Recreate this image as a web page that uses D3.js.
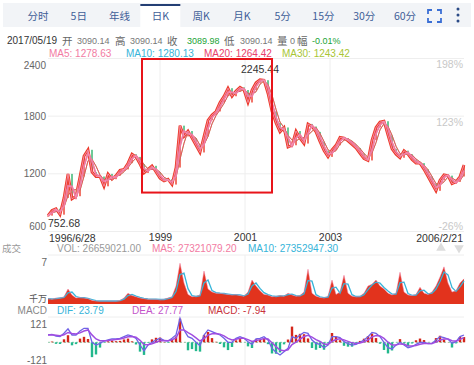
<!DOCTYPE html>
<html>
<head>
<meta charset="utf-8">
<title>日K</title>
<style>
    body { margin: 0; background: #fff; overflow: hidden; }
    svg text { font-family: "Liberation Sans", Arial, sans-serif; }
    .cjk { font-family: "Noto Sans CJK SC", sans-serif; }
</style>
</head>
<body>
<div id="chart"></div>
<script src="https://d3js.org/d3.v7.min.js"></script>
<script>
// tabs on top
var tabs = ["分时", "5日", "年线", "日K", "周K", "月K", "5分", "15分", "30分", "60分"];
var activeTab = "日K";

// quote line
var quoteDate = "2017/05/19";
var quoteLabels = ["开", "高", "收", "低", "量", "幅"];
var quoteValues = ["3090.14", "3090.14", "3089.98", "3090.14", "0", "-0.01%"];
var maNames = ["MA5", "MA10", "MA20", "MA30"];
var maValues = ["1278.63", "1280.13", "1264.42", "1243.42"];
var volNames = ["VOL", "MA5", "MA10"];
var volValues = ["26659021.00", "27321079.20", "27352947.30"];
var macdNames = ["DIF", "DEA", "MACD"];
var macdValues = ["23.79", "27.77", "-7.94"];

// price, one sample every few trading days, 1996/6/28 .. 2006/2/21
var closes = [760, 814, 832, 770, 944, 1194, 935, 962, 1167, 1380,
    1445, 1213, 1167, 1167, 1065, 1194, 1139, 1176, 1232, 1241,
    1306, 1399, 1371, 1297, 1204, 1241, 1278, 1213, 1148, 1120,
    1139, 1083, 1260, 1696, 1584, 1640, 1566, 1492, 1417, 1584,
    1752, 1807, 1844, 1937, 2002, 2086, 2002, 2058, 2095, 2067,
    1937, 2067, 2142, 2174, 2169, 2030, 1844, 1724, 1631, 1677,
    1473, 1492, 1640, 1566, 1510, 1714, 1687, 1631, 1529, 1436,
    1371, 1445, 1492, 1575, 1566, 1538, 1501, 1464, 1408, 1352,
    1334, 1547, 1677, 1733, 1742, 1594, 1454, 1399, 1362, 1436,
    1399, 1343, 1306, 1306, 1241, 1167, 1092, 1018, 1130, 1185,
    1176, 1092, 1111, 1167, 1287];

// volume in 千万
var volumes = [0.9, 0.8, 1.0, 1.0, 1.2, 2.5, 1.5, 1.0, 1.1, 1.0,
    0.9, 0.6, 0.5, 0.5, 0.5, 0.5, 0.5, 0.5, 0.6, 1.0,
    1.8, 1.4, 1.2, 1.0, 0.9, 0.8, 0.8, 0.8, 0.7, 0.8,
    1.0, 1.2, 3.0, 6.8, 3.5, 1.6, 1.2, 1.3, 1.5, 5.5,
    2.5, 2.0, 1.8, 1.8, 1.7, 1.6, 1.5, 1.6, 1.4, 1.3,
    2.0, 4.0, 3.0, 2.2, 1.6, 1.5, 1.2, 1.3, 1.4, 1.3,
    1.8, 1.5, 1.3, 1.4, 2.0, 5.8, 1.8, 1.3, 1.1, 1.0,
    1.3, 4.0, 1.6, 2.0, 4.8, 1.8, 1.3, 1.2, 1.3, 1.8,
    3.0, 3.3, 4.0, 3.0, 2.5, 1.8, 1.5, 1.8, 5.3, 2.0,
    1.5, 1.4, 1.6, 2.8, 1.8, 1.6, 2.0, 3.0, 4.5, 6.2,
    3.5, 2.0, 2.2, 3.5, 4.2];

var difs = [35, 38, 30, 27, 43, 64, 35, 35, 54, 67,
    67, 0, -13, -5, 6, 11, 16, 16, 19, 27,
    35, 30, 19, -13, -41, -13, 0, 11, 19, 9,
    6, 19, 35, 115, 59, 27, 19, 0, -16, 35,
    59, 51, 43, 35, 19, 0, 0, 19, 27, 19,
    3, -10, 16, 19, 27, 11, -29, -48, -61, -45,
    -29, 27, 19, 35, 47, 43, 11, -5, -10, -26,
    -13, 27, 27, 22, 3, -6, -13, -10, 0, 11,
    27, 47, 43, 27, 0, -26, -32, -13, 0, -13,
    -26, -21, -10, 0, 0, -6, -6, 11, 27, 22,
    16, -5, 3, 27, 35];

var priceTicks = [2400, 1800, 1200, 600];
var pctTicks = [198, 123, -26];
var yearIdx = [28, 49.25, 70.5];
var yearLabels = ["1999", "2001", "2003"];
var firstDate = "1996/6/28", lastDate = "2006/2/21";
var highLabel = 2245.44, lowLabel = 752.68;
var boxFrom = 23.5, boxTo = 56, boxTop = 2400, boxBottom = 1000;

var colors = {
    ma5: "#f27ba2", ma10: "#36b4d9", ma20: "#e8416b", ma30: "#a8c535",
    up: "#ec3a2a", down: "#2fb36c", axis: "#666", grid: "#eeeeee"
};

var W = 474, H = 365;
var left = 48, right = 464;

var svg = d3.select("#chart").append("svg").attr("width", W).attr("height", H);

// ---- tab bar ----
var tabX = d3.scalePoint().domain(tabs).range([38, 405]);
svg.append("rect").attr("x", 3).attr("y", 3).attr("width", 468).attr("height", 24).attr("fill", "#f2f4f7");
svg.append("rect").attr("x", tabX(activeTab) - 20).attr("y", 4).attr("width", 40).attr("height", 23).attr("fill", "#fff");
svg.append("rect").attr("x", tabX(activeTab) - 20).attr("y", 4).attr("width", 40).attr("height", 2).attr("fill", "#243f74");
svg.selectAll(".tab").data(tabs).enter().append("text")
    .attr("class", "cjk tab")
    .attr("x", function(d) { return tabX(d); })
    .attr("y", 20)
    .attr("text-anchor", "middle")
    .style("font-size", "10.5px")
    .attr("fill", "#3f5e98")
    .text(function(d) { return d; });

// fullscreen icon + menu dots
var fs = svg.append("g").attr("fill", "none").attr("stroke", "#3b6fd4").attr("stroke-width", 1.8);
fs.append("path").attr("d", "M428,14V10H432 M437,10H441V14 M441,18V22H437 M432,22H428V18");
svg.selectAll(".dot").data([9, 15, 21]).enter().append("circle")
    .attr("cx", 458).attr("cy", function(d) { return d; }).attr("r", 1.5).attr("fill", "#2b4a86");

// ---- quote line ----
svg.append("text").attr("x", 7).attr("y", 44).attr("fill", "#333").style("font-size", "10px").text(quoteDate);
var qLabelX = [62, 115, 167, 224, 277, 297];
var qValueX = [77, 130, 187, 240, 290, 312];
quoteLabels.forEach(function(l, i) {
    svg.append("text").attr("class", "cjk").attr("x", qLabelX[i]).attr("y", 45)
        .attr("fill", "#666").style("font-size", "10.5px").text(l);
    var green = quoteValues[i] === "3089.98" || quoteValues[i].charAt(0) === "-";
    svg.append("text").attr("x", qValueX[i]).attr("y", 44)
        .attr("fill", green ? "#21a336" : "#777").style("font-size", "9px").text(quoteValues[i]);
});

// MA legend
var maColors = [colors.ma5, colors.ma10, colors.ma20, colors.ma30];
var maX = [49, 126, 204, 282];
maNames.forEach(function(n, i) {
    svg.append("text").attr("x", maX[i]).attr("y", 57).attr("fill", maColors[i])
        .style("font-size", "10px").text(n + ": " + maValues[i]);
});

// ---- scales ----
var N = closes.length;
var x = d3.scaleLinear().domain([0, N - 1]).range([left, right]);
var y = d3.scaleLinear().domain([600, 2400]).range([231, 58]);
var yPct = d3.scaleLinear().domain([-26, 198]).range([231, 58]);
var yVol = d3.scaleLinear().domain([0, 7]).range([304, 262]);
var yMacd = d3.scaleLinear().domain([-121, 121]).range([367.6, 317]);

function movingAvg(arr, n) {
    return arr.map(function(v, i) {
        return d3.mean(arr.slice(Math.max(0, i - n + 1), i + 1));
    });
}

// ---- price panel ----
var yAxis = svg.append("g").attr("transform", "translate(" + left + ",0)")
    .call(d3.axisLeft(y).tickValues(priceTicks).tickFormat(d3.format("d"))
        .tickSize(-(right - left)).tickPadding(2));
yAxis.select(".domain").remove();
yAxis.selectAll("line").attr("stroke", colors.grid);
yAxis.selectAll("text").attr("fill", colors.axis).style("font-size", "10px")
    .attr("dy", function(d) { return d === 2400 ? "1.05em" : d === 600 ? "-0.17em" : "0.36em"; });

svg.append("g").selectAll("text").data(pctTicks).enter().append("text")
    .attr("x", 463).attr("y", function(d) { return yPct(d); })
    .attr("dy", function(d, i) { return i === pctTicks.length - 1 ? "-0.07em" : "0.93em"; })
    .attr("text-anchor", "end").attr("fill", "#c8c8c8").style("font-size", "10.5px")
    .text(function(d) { return d + "%"; });

// vertical grid in all three panels
[[58, 231], [255, 304], [317, 365]].forEach(function(r) {
    svg.append("g").selectAll("line").data(yearIdx).enter().append("line")
        .attr("x1", function(d) { return x(d); }).attr("x2", function(d) { return x(d); })
        .attr("y1", r[0]).attr("y2", r[1]).attr("stroke", colors.grid);
});
[255, 317].forEach(function(v) {
    svg.append("line").attr("x1", left).attr("x2", right).attr("y1", v).attr("y2", v).attr("stroke", colors.grid);
});

var xAxis = svg.append("g").attr("transform", "translate(0,231)")
    .call(d3.axisBottom(x).tickValues(yearIdx).tickSize(0).tickPadding(3)
        .tickFormat(function(d, i) { return yearLabels[i]; }));
xAxis.select(".domain").remove();
xAxis.selectAll("text").attr("fill", "#333").style("font-size", "10.5px");
svg.append("text").attr("x", left + 1).attr("y", 241.5).attr("fill", "#333").style("font-size", "10.5px").text(firstDate);
svg.append("text").attr("x", 463).attr("y", 241.5).attr("text-anchor", "end").attr("fill", "#333").style("font-size", "10.5px").text(lastDate);

// candles (open = previous close), drawn thin under the lines
var candles = svg.append("g");
closes.forEach(function(c, i) {
    var o = i === 0 ? c : closes[i - 1];
    candles.append("rect")
        .attr("x", x(i) - 0.7).attr("width", 1.4)
        .attr("y", y(Math.max(o, c))).attr("height", Math.max(1, Math.abs(y(o) - y(c))))
        .attr("fill", c >= o ? colors.up : colors.down);
});

var priceLine = d3.line().x(function(d, i) { return x(i); }).y(function(d) { return y(d); });
svg.append("path").datum(closes).attr("d", priceLine).attr("fill", "none")
    .attr("stroke", colors.up).attr("stroke-width", 2.8);
[[3, colors.ma30], [3, colors.ma20], [2, colors.ma10], [2, colors.ma5]].forEach(function(m, k) {
    svg.append("path").datum(movingAvg(closes, m[0]))
        .attr("d", priceLine).attr("fill", "none").attr("stroke", m[1])
        .attr("stroke-width", k === 3 ? 1.8 : 0.9);
});
svg.append("path").datum(closes).attr("d", priceLine).attr("fill", "none")
    .attr("stroke", "#f59ab8").attr("stroke-width", 0.8);

// max / min labels
var iMax = d3.maxIndex(closes), iMin = d3.minIndex(closes);
svg.append("text").attr("x", x(iMax)).attr("y", y(highLabel)).attr("text-anchor", "middle")
    .attr("fill", "#333").style("font-size", "10.5px").text(highLabel.toFixed(2));
svg.append("text").attr("x", x(iMin)).attr("y", y(lowLabel) + 11)
    .attr("fill", "#333").style("font-size", "10.5px").text(lowLabel.toFixed(2));

// highlight box
svg.append("rect")
    .attr("x", x(boxFrom)).attr("y", y(boxTop) + 1)
    .attr("width", x(boxTo) - x(boxFrom)).attr("height", y(boxBottom) - y(boxTop) - 1)
    .attr("fill", "none").attr("stroke", "#e8141a").attr("stroke-width", 2);

// ---- volume panel ----
svg.append("text").attr("class", "cjk").attr("x", 2).attr("y", 252).attr("fill", "#999").style("font-size", "9.5px").text("成交");
var volColors = ["#999", colors.ma5, colors.ma10];
var volX = [57, 152, 248];
volNames.forEach(function(n, i) {
    svg.append("text").attr("x", volX[i]).attr("y", 252).attr("fill", volColors[i])
        .style("font-size", "10px").text(n + ": " + volValues[i]);
});
svg.append("text").attr("x", 47).attr("y", 266).attr("text-anchor", "end").attr("fill", colors.axis).style("font-size", "10px").text("7");
svg.append("text").attr("class", "cjk").attr("x", 47).attr("y", 302).attr("text-anchor", "end").attr("fill", "#555").style("font-size", "9px").text("千万");

var tri = d3.symbol().type(d3.symbolTriangle).size(40);
svg.append("path").attr("d", tri()).attr("transform", "translate(441,248)").attr("fill", "#ddd");
svg.append("path").attr("d", tri()).attr("transform", "translate(459,248) rotate(180)").attr("fill", "#ddd");

var volArea = d3.area().x(function(d, i) { return x(i); })
    .y0(yVol(0)).y1(function(d) { return yVol(d); });
svg.append("path").datum(volumes).attr("d", volArea).attr("fill", "#e2331d");
var volLine = d3.line().x(function(d, i) { return x(i); }).y(function(d) { return yVol(d); });
svg.append("path").datum(movingAvg(volumes, 2)).attr("d", volLine).attr("fill", "none")
    .attr("stroke", colors.ma10).attr("stroke-width", 1.3);
svg.append("path").datum(volumes).attr("d", volLine).attr("fill", "none")
    .attr("stroke", colors.ma5).attr("stroke-width", 0.6).attr("opacity", 0.8);

// ---- MACD panel ----
svg.append("text").attr("x", 47).attr("y", 314).attr("text-anchor", "end").attr("fill", "#888").style("font-size", "10px").text("MACD");
var macdColors = [colors.ma10, "#c354c9", "#c8323a"];
var macdX = [57, 132, 208];
macdNames.forEach(function(n, i) {
    svg.append("text").attr("x", macdX[i]).attr("y", 314).attr("fill", macdColors[i])
        .style("font-size", "10px").text(n + ": " + macdValues[i]);
});
svg.append("text").attr("x", 47).attr("y", yMacd(121)).attr("dy", "1.05em").attr("text-anchor", "end")
    .attr("fill", colors.axis).style("font-size", "10px").text("121");
svg.append("text").attr("x", 47).attr("y", 364).attr("text-anchor", "end")
    .attr("fill", colors.axis).style("font-size", "10px").text("-121");

// DEA = EMA of DIF, histogram = 2 * (DIF - DEA)
var deas = [];
difs.forEach(function(d, i) { deas.push(i === 0 ? d : deas[i - 1] + 0.4 * (d - deas[i - 1])); });
var hist = difs.map(function(d, i) { return 2 * (d - deas[i]); });

svg.append("line").attr("x1", left).attr("x2", right).attr("y1", yMacd(0)).attr("y2", yMacd(0))
    .attr("stroke", "#8fc9a8").attr("stroke-dasharray", "2,2");
svg.append("g").selectAll("rect").data(hist).enter().append("rect")
    .attr("x", function(d, i) { return x(i) - 1.2; }).attr("width", 2.4)
    .attr("y", function(d) { return yMacd(Math.max(0, d)); })
    .attr("height", function(d) { return Math.abs(yMacd(d) - yMacd(0)); })
    .attr("fill", function(d) { return d >= 0 ? "#d4261a" : "#22b88c"; });

var macdLine = d3.line().x(function(d, i) { return x(i); }).y(function(d) { return yMacd(d); });
svg.append("path").datum(difs).attr("d", macdLine).attr("fill", "none")
    .attr("stroke", "#6f62e6").attr("stroke-width", 1.3);
svg.append("path").datum(deas).attr("d", macdLine).attr("fill", "none")
    .attr("stroke", "#a04de0").attr("stroke-width", 1.5);
</script>
</body>
</html>
